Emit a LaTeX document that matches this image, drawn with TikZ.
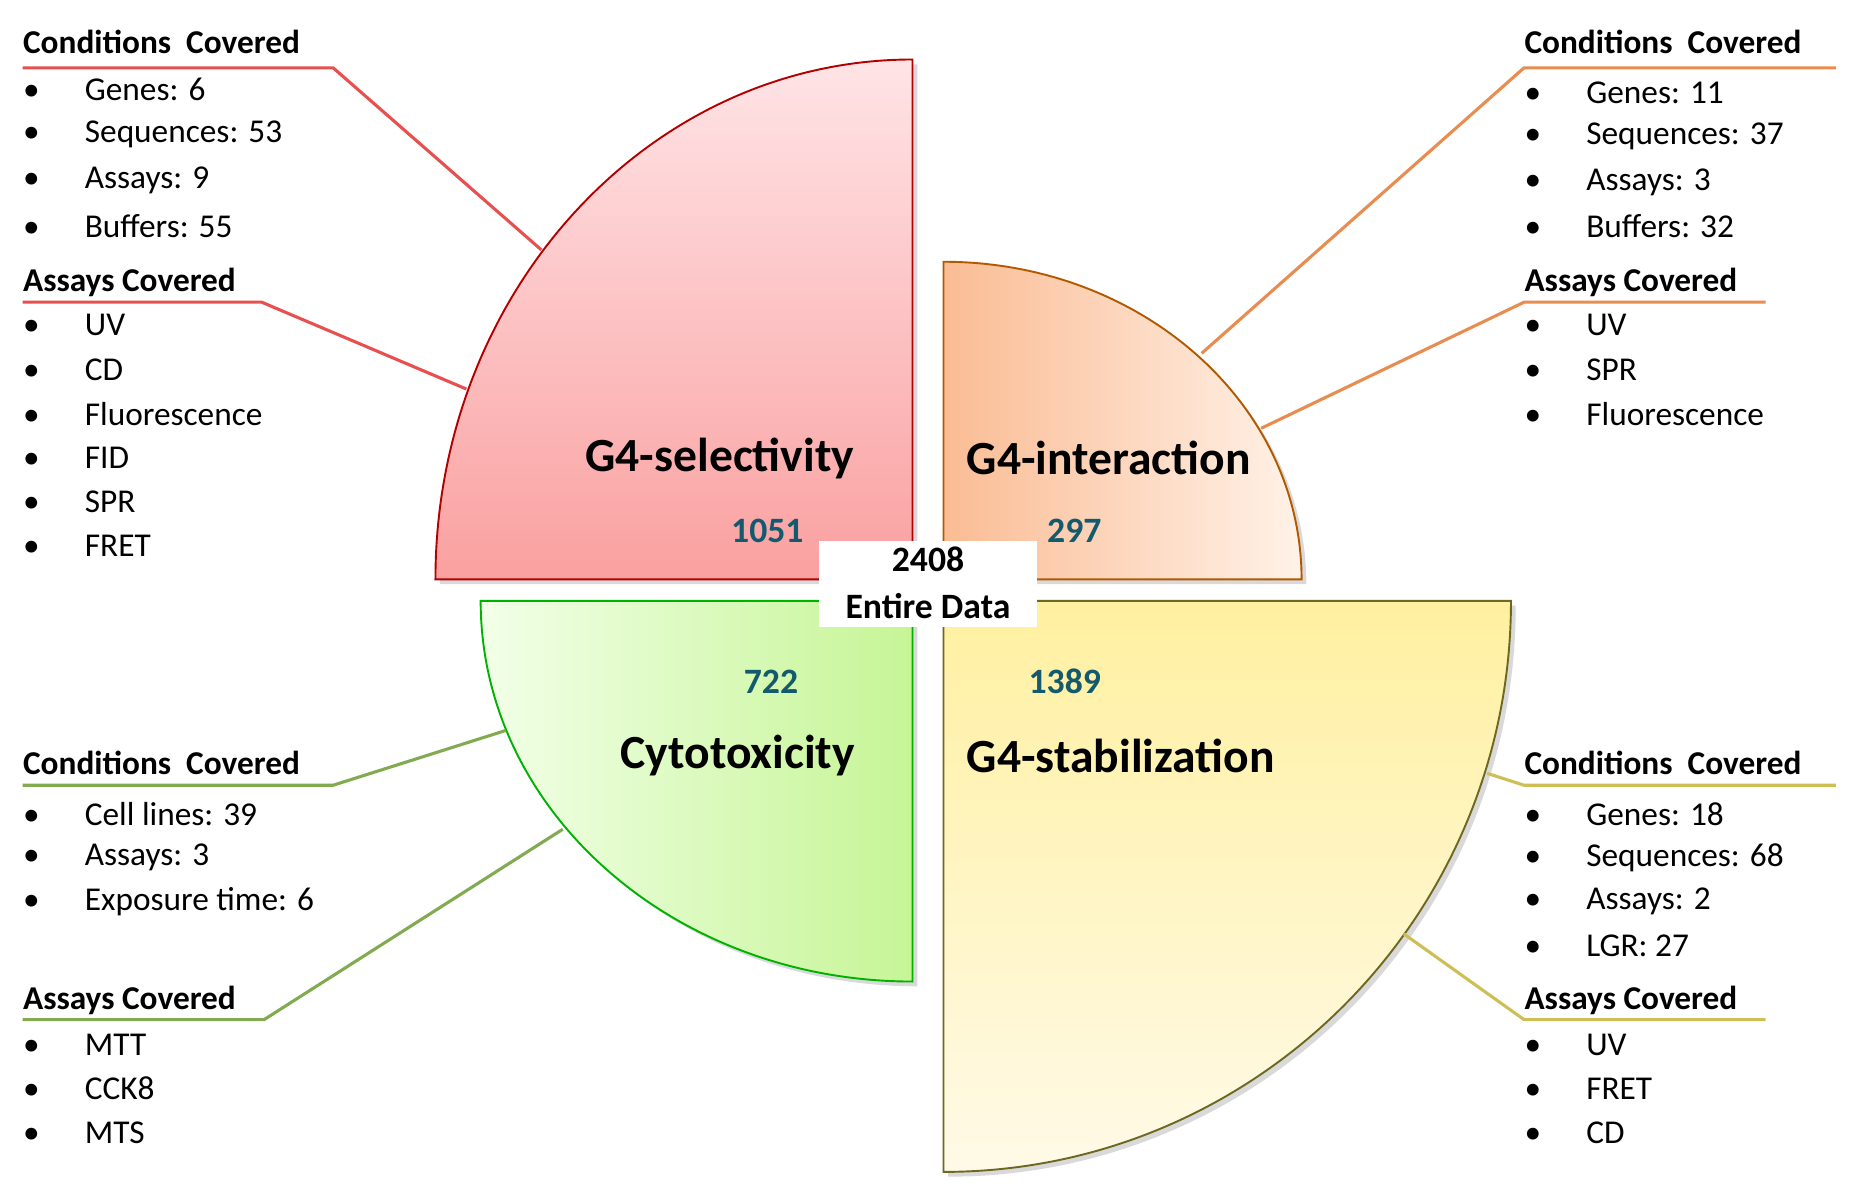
\documentclass[tikz,border=0pt]{standalone}
\usepackage{fontspec}
\setmainfont{Carlito}
\usetikzlibrary{shadows}
\definecolor{cred}{RGB}{232,80,80}
\definecolor{corg}{RGB}{232,140,80}
\definecolor{cgrn}{RGB}{130,170,80}
\definecolor{cyel}{RGB}{205,190,85}
\definecolor{teal}{RGB}{20,90,110}
\begin{document}
\begin{tikzpicture}[x=0.5pt,y=-0.5pt,
 head/.style={anchor=west,font=\fontsize{14}{16}\selectfont\bfseries,inner sep=0pt},
 item/.style={anchor=west,font=\fontsize{14}{16}\selectfont,inner sep=0pt},
 big/.style={font=\fontsize{20}{22}\selectfont\bfseries},
 num/.style={font=\fontsize{15}{17}\selectfont\bfseries,text=teal},
 wedge/.style={draw=#1!70!black,line width=0.8pt,drop shadow={opacity=0.3,shadow xshift=2pt,shadow yshift=-2pt}},
 lead/.style={line width=1.3pt}]
\useasboundingbox (0,0) rectangle (1560,1007);
% wedges
\path[wedge=red,top color={rgb,255:red,255;green,228;blue,230},bottom color={rgb,255:red,250;green,160;blue,160}]
 (767,487) -- (366,487) arc[start angle=180,end angle=90,x radius=200.5pt,y radius=218.5pt] -- cycle;
\path[wedge=orange,left color={rgb,255:red,250;green,188;blue,148},right color={rgb,255:red,255;green,242;blue,232}]
 (793,487) -- (1094,487) arc[start angle=0,end angle=90,x radius=150.5pt,y radius=133.5pt] -- cycle;
\path[wedge=green,left color={rgb,255:red,242;green,255;blue,232},right color={rgb,255:red,198;green,245;blue,150}]
 (767,505) -- (404,505) arc[start angle=180,end angle=270,x radius=181.5pt,y radius=160pt] -- cycle;
\path[wedge=olive,top color={rgb,255:red,255;green,240;blue,160},bottom color={rgb,255:red,255;green,250;blue,232}]
 (793,505) -- (1270,505) arc[start angle=0,end angle=-90,x radius=238.5pt,y radius=240pt] -- cycle;
\node[fill=white,minimum width=90pt,minimum height=34pt,draw=white,line width=2pt] (ctr) at (780,491) {};
\node[font=\fontsize{15}{17}\selectfont\bfseries,align=center,inner sep=0pt] (ctrt) at (780,490) {2408\\[3pt]Entire Data};
\node[big] (sel) at (605,385) {G4-selectivity};
\node[num] (n1) at (645,446) {1051};
\node[big] (int) at (932,385) {G4-interaction};
\node[num] (n2) at (903,446) {297};
\node[num] (n3) at (648,573) {722};
\node[big] (cyt) at (620,635) {Cytotoxicity};
\node[num] (n4) at (895,573) {1389};
\node[big] (stab) at (942,635) {G4-stabilization};
% anchor coordinates on wedges
\coordinate (p1) at (455,210); \coordinate (p2) at (392,327);
\coordinate (p3) at (1010,297); \coordinate (p4) at (1060,360);
\coordinate (p5) at (425,614); \coordinate (p6) at (473,697);
\coordinate (p7) at (1250,650); \coordinate (p8) at (1180,785);
% top-left
\node[head] (h1) at (19,35) {Conditions~ Covered};
\coordinate (u1a) at (19,57); \coordinate (u1b) at (280,57);
\draw[cred,lead] (u1a) -- (u1b) -- (p1);
\foreach \t/\y [count=\i] in {Genes: 6/75,Sequences: 53/113,Assays: 9/152,Buffers: 55/190}
 \node[item] (a\i) at (19,\y) {•\hspace{19pt}\t};
\node[head] (h2) at (19,237) {Assays Covered};
\coordinate (u2a) at (19,254); \coordinate (u2b) at (220,254);
\draw[cred,lead] (u2a) -- (u2b) -- (p2);
\foreach \t/\y [count=\i] in {UV/273,CD/311,Fluorescence/348,FID/385,SPR/422,FRET/459}
 \node[item] (b\i) at (19,\y) {•\hspace{19pt}\t};
% top-right
\node[head] (h3) at (1281,35) {Conditions~ Covered};
\coordinate (u3a) at (1543,57); \coordinate (u3b) at (1281,57);
\draw[corg,lead] (u3a) -- (u3b) -- (p3);
\foreach \t/\y [count=\i] in {Genes: 11/78,Sequences: 37/115,Assays: 3/153,Buffers: 32/190}
 \node[item] (c\i) at (1281,\y) {•\hspace{19pt}\t};
\node[head] (h4) at (1281,237) {Assays Covered};
\coordinate (u4a) at (1484,254); \coordinate (u4b) at (1281,254);
\draw[corg,lead] (u4a) -- (u4b) -- (p4);
\foreach \t/\y [count=\i] in {UV/273,SPR/311,Fluorescence/348}
 \node[item] (d\i) at (1281,\y) {•\hspace{19pt}\t};
% bottom-left
\node[head] (h5) at (19,641) {Conditions~ Covered};
\coordinate (u5a) at (19,660); \coordinate (u5b) at (280,660);
\draw[cgrn,lead] (u5a) -- (u5b) -- (p5);
\foreach \t/\y [count=\i] in {Cell lines: 39/684,Assays: 3/721,Exposure time: 6/758}
 \node[item] (e\i) at (19,\y) {•\hspace{19pt}\t};
\node[head] (h6) at (19,841) {Assays Covered};
\coordinate (u6a) at (19,857); \coordinate (u6b) at (222,857);
\draw[cgrn,lead] (u6a) -- (u6b) -- (p6);
\foreach \t/\y [count=\i] in {MTT/878,CCK8/915,MTS/952}
 \node[item] (f\i) at (19,\y) {•\hspace{19pt}\t};
% bottom-right
\node[head] (h7) at (1281,641) {Conditions~ Covered};
\coordinate (u7a) at (1543,660); \coordinate (u7b) at (1281,660);
\draw[cyel,lead] (u7a) -- (u7b) -- (p7);
\foreach \t/\y [count=\i] in {Genes: 18/684,Sequences: 68/721,Assays: 2/758,LGR: 27/795}
 \node[item] (g\i) at (1281,\y) {•\hspace{19pt}\t};
\node[head] (h8) at (1281,841) {Assays Covered};
\coordinate (u8a) at (1484,857); \coordinate (u8b) at (1281,857);
\draw[cyel,lead] (u8a) -- (u8b) -- (p8);
\foreach \t/\y [count=\i] in {UV/878,FRET/915,CD/952}
 \node[item] (k\i) at (1281,\y) {•\hspace{19pt}\t};
\end{tikzpicture}
\end{document}
